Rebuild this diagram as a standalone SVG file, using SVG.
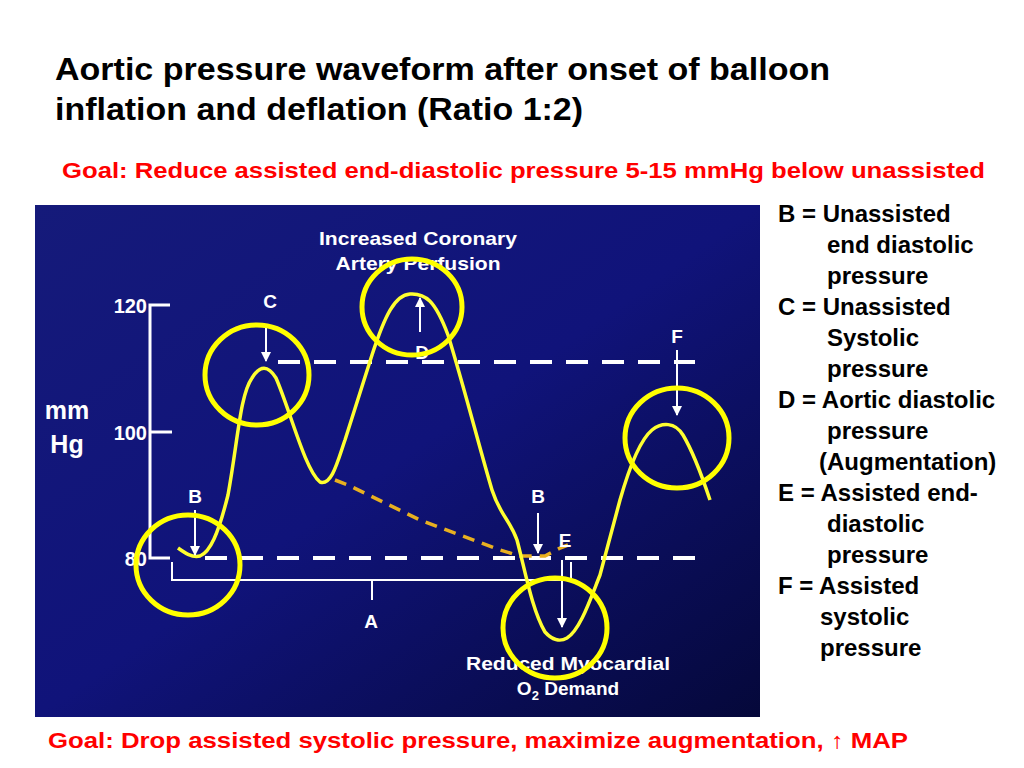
<svg xmlns="http://www.w3.org/2000/svg" width="1024" height="768" viewBox="0 0 1024 768">
<defs>
<linearGradient id="bg" x1="0" y1="0" x2="1" y2="1">
<stop offset="0" stop-color="#151a7a"/><stop offset="0.5" stop-color="#10137a"/><stop offset="1" stop-color="#05083a"/>
</linearGradient>
<marker id="ah" viewBox="0 0 10 10" refX="9" refY="5" markerWidth="5" markerHeight="5" orient="auto"><path d="M0,0 L10,5 L0,10 z" fill="#fff"/></marker>
<style>
.t{font-family:"Liberation Sans",Arial,sans-serif;font-weight:bold}
.w{fill:#fff;font-family:"Liberation Sans",Arial,sans-serif;font-weight:bold}
.k{fill:#000}
.r{fill:#ff0000}
.circ{fill:none;stroke:#ffff00;stroke-width:5}
.arr{stroke:#fff;stroke-width:2;marker-end:url(#ah)}
.dash{stroke:#fff;stroke-width:4;stroke-dasharray:22,14;fill:none}
</style>
</defs>
<rect width="1024" height="768" fill="#fff"/>
<text class="t k" x="55" y="80" font-size="31" textLength="775" lengthAdjust="spacingAndGlyphs">Aortic pressure waveform after onset of balloon</text>
<text class="t k" x="55" y="120" font-size="31" textLength="528" lengthAdjust="spacingAndGlyphs">inflation and deflation (Ratio 1:2)</text>
<text class="t r" x="62" y="178" font-size="22" textLength="923" lengthAdjust="spacingAndGlyphs">Goal:  Reduce assisted end-diastolic pressure 5-15 mmHg below unassisted</text>
<text class="t r" x="48" y="748" font-size="22" textLength="860" lengthAdjust="spacingAndGlyphs">Goal:  Drop assisted systolic pressure, maximize augmentation, ↑ MAP</text>
<rect x="35" y="205" width="725" height="512" fill="url(#bg)"/>
<g id="axis" fill="none" stroke="#fff" stroke-width="3">
<path d="M170,305 H150 V558 H170 M150,432 H172"/>
</g>
<g id="axis-labels">
<text class="w" x="147" y="313" text-anchor="end" font-size="20">120</text>
<text class="w" x="147" y="440" text-anchor="end" font-size="20">100</text>
<text class="w" x="147" y="566" text-anchor="end" font-size="20">80</text>
<text class="w" x="67" y="419" text-anchor="middle" font-size="25">mm</text>
<text class="w" x="67" y="453" text-anchor="middle" font-size="25">Hg</text>
</g>
<g id="connectors">
<path class="dash" d="M278,362 H695"/>
<path class="dash" d="M205,558 H700"/>
<path d="M172,562 V580 H571 V562 M372,580 V600" fill="none" stroke="#fff" stroke-width="2"/>
<path d="M335,480 L348,485 L420,520 L500,550 L520,556 L545,556 L560,548 L568,545" fill="none" stroke="#e8b020" stroke-width="3.5" stroke-dasharray="12,8"/>
<path d="M178,548 C185,553 192,558 200,556 C210,552 218,535 228,495 C238,440 240,395 252,378 C260,365 268,365 276,378 C290,410 305,470 320,482 C332,486 338,460 345,440 L372,355 C385,315 395,295 410,294 C425,293 435,300 448,335 C465,390 480,450 492,490 C500,515 510,520 517,540 C525,570 532,610 545,632 C552,640 560,642 567,638 C580,630 590,600 600,575 L620,500 C630,465 640,440 652,430 C662,422 675,422 683,435 C695,455 705,485 710,500" fill="none" stroke="#ffff30" stroke-width="3.5"/>
<line class="arr" x1="195" y1="510" x2="195" y2="555"/>
<line class="arr" x1="266" y1="328" x2="266" y2="361"/>
<line class="arr" x1="420" y1="332" x2="420" y2="298"/>
<line class="arr" x1="538" y1="513" x2="538" y2="553"/>
<line class="arr" x1="562" y1="560" x2="562" y2="627"/>
<line class="arr" x1="677" y1="350" x2="677" y2="415"/>
</g>
<g id="labels" font-size="19">
<text class="w" x="195" y="503" text-anchor="middle">B</text>
<text class="w" x="270" y="308" text-anchor="middle">C</text>
<text class="w" x="422" y="359" text-anchor="middle">D</text>
<text class="w" x="677" y="343" text-anchor="middle">F</text>
<text class="w" x="538" y="503" text-anchor="middle">B</text>
<text class="w" x="565" y="547" text-anchor="middle">E</text>
<text class="w" x="371" y="628" text-anchor="middle">A</text>
<text class="w" x="418" y="245" text-anchor="middle" textLength="198" lengthAdjust="spacingAndGlyphs">Increased Coronary</text>
<text class="w" x="418" y="270" text-anchor="middle" textLength="165" lengthAdjust="spacingAndGlyphs">Artery Perfusion</text>
<text class="w" x="568" y="670" text-anchor="middle" textLength="204" lengthAdjust="spacingAndGlyphs">Reduced Myocardial</text>
<text class="w" x="568" y="695" text-anchor="middle">O<tspan font-size="13" dy="5">2</tspan><tspan dy="-5"> Demand</tspan></text>
</g>
<g id="circles">
<ellipse class="circ" cx="188" cy="565" rx="52" ry="50"/>
<ellipse class="circ" cx="257" cy="375" rx="52" ry="50"/>
<ellipse class="circ" cx="412" cy="307" rx="50" ry="48"/>
<ellipse class="circ" cx="555" cy="628" rx="52" ry="50"/>
<ellipse class="circ" cx="677" cy="438" rx="52" ry="50"/>
</g>
<g id="legend" class="t" font-size="24" fill="#000">
<text x="778" y="222">B = Unassisted</text>
<text x="827" y="253">end diastolic</text>
<text x="827" y="284">pressure</text>
<text x="778" y="315">C = Unassisted</text>
<text x="827" y="346">Systolic</text>
<text x="827" y="377">pressure</text>
<text x="778" y="408">D = Aortic diastolic</text>
<text x="827" y="439">pressure</text>
<text x="819" y="470">(Augmentation)</text>
<text x="778" y="501">E = Assisted end-</text>
<text x="827" y="532">diastolic</text>
<text x="827" y="563">pressure</text>
<text x="778" y="594">F = Assisted</text>
<text x="820" y="625">systolic</text>
<text x="820" y="656">pressure</text>
</g>
</svg>
